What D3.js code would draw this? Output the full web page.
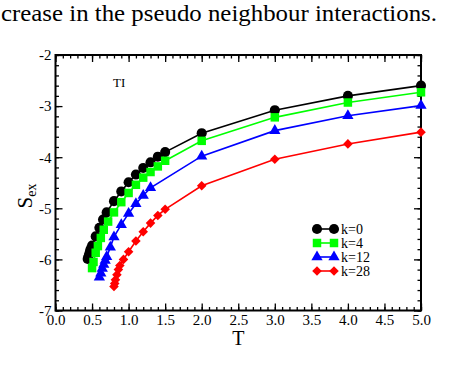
<!DOCTYPE html>
<html>
<head>
<meta charset="utf-8">
<script src="https://cdn.jsdelivr.net/npm/d3@7/dist/d3.min.js"></script>
<style>
  html, body { margin: 0; padding: 0; background: #fff; }
  svg { display: block; }
  svg text { font-family: "Liberation Serif", "DejaVu Serif", "Noto Serif", serif !important; fill: #000; }
</style>
</head>
<body>
<svg id="chart" width="474" height="366"></svg>
<script>
// ---- data ----
const captionText = "crease in the pseudo neighbour interactions.";
const panelLabel = "TI";
const xTickLabels = ["0.0","0.5","1.0","1.5","2.0","2.5","3.0","3.5","4.0","4.5","5.0"];
const yTickLabels = ["-7","-6","-5","-4","-3","-2"];
const seriesNames = ["k=0", "k=4", "k=12", "k=28"];

const T_k0 = [0.44,0.45,0.46,0.47,0.48,0.5,0.55,0.6,0.65,0.7,0.8,0.9,1.0,1.1,1.2,1.3,1.4,1.5,2,3,4,5];
const S_k0 = [-5.99,-5.95,-5.90,-5.85,-5.80,-5.73,-5.55,-5.38,-5.22,-5.08,-4.86,-4.67,-4.49,-4.34,-4.21,-4.10,-3.99,-3.90,-3.53,-3.08,-2.80,-2.60];

const T_k4 = [0.5,0.52,0.55,0.58,0.62,0.66,0.72,0.8,0.9,1.0,1.1,1.2,1.3,1.4,1.5,2,3,4,5];
const S_k4 = [-6.17,-6.05,-5.87,-5.74,-5.58,-5.42,-5.26,-5.08,-4.88,-4.70,-4.54,-4.40,-4.29,-4.18,-4.07,-3.68,-3.22,-2.93,-2.73];

const T_k12 = [0.6,0.62,0.64,0.66,0.68,0.7,0.75,0.8,0.9,1.0,1.1,1.2,1.3,2,3,4,5];
const S_k12 = [-6.35,-6.27,-6.18,-6.10,-6.02,-5.95,-5.76,-5.56,-5.32,-5.10,-4.91,-4.75,-4.60,-3.98,-3.48,-3.19,-2.99];

const T_k28 = [0.8,0.81,0.82,0.84,0.86,0.88,0.93,1.0,1.1,1.2,1.3,1.4,1.5,2,3,4,5];
const S_k28 = [-6.53,-6.47,-6.40,-6.30,-6.20,-6.12,-6.00,-5.85,-5.64,-5.46,-5.29,-5.14,-5.02,-4.56,-4.04,-3.74,-3.51];

const seriesT = [T_k0, T_k4, T_k12, T_k28];
const seriesS = [S_k0, S_k4, S_k12, S_k28];
const colors = ["#000000", "#00ff00", "#0000ff", "#ff0000"];

// ---- layout ----
const W = 474, H = 366;
const margin = { left: 55.5, right: 53, top: 55, bottom: 55.5 };
const svg = d3.select("#chart");

const x = d3.scaleLinear().domain([0, 5]).range([margin.left, W - margin.right]);
const y = d3.scaleLinear().domain([-7, -2]).range([H - margin.bottom, margin.top]);

// caption
svg.append("text")
  .attr("x", 1).attr("y", 20.5)
  .attr("font-size", 23)
  .attr("textLength", 436)
  .attr("lengthAdjust", "spacingAndGlyphs")
  .text(captionText);

// axes with inward ticks
const majorX = d3.range(0, 5.001, 0.5);
const minorX = d3.range(0, 5.001, 0.1);
const majorY = d3.range(-7, -1.999, 1);
const minorY = d3.range(-7, -1.999, 0.2);

const axBottom = d3.axisBottom(x).tickValues(majorX).tickSize(-7).tickFormat((d, i) => xTickLabels[i]).tickPadding(4);
const axBottomMinor = d3.axisBottom(x).tickValues(minorX).tickSize(-3.5).tickFormat("");
const axTop = d3.axisTop(x).tickValues(majorX).tickSize(-7).tickFormat("");
const axTopMinor = d3.axisTop(x).tickValues(minorX).tickSize(-3.5).tickFormat("");
const axLeft = d3.axisLeft(y).tickValues(majorY).tickSize(-7).tickFormat((d, i) => yTickLabels[i]).tickPadding(4);
const axLeftMinor = d3.axisLeft(y).tickValues(minorY).tickSize(-3.5).tickFormat("");
const axRight = d3.axisRight(y).tickValues(majorY).tickSize(-7).tickFormat("");
const axRightMinor = d3.axisRight(y).tickValues(minorY).tickSize(-3.5).tickFormat("");

function styleAxis(g) {
  g.select(".domain").remove();
  g.attr("font-family", null);
  g.selectAll(".tick line").attr("stroke", "#000").attr("stroke-width", 1.3);
  g.selectAll(".tick text").attr("font-size", 15).attr("fill", "#000");
}
const bY = H - margin.bottom, tY = margin.top, lX = margin.left, rX = W - margin.right;
svg.append("g").attr("transform", `translate(0,${bY})`).call(axBottomMinor).call(styleAxis);
svg.append("g").attr("transform", `translate(0,${bY})`).call(axBottom).call(styleAxis);
svg.append("g").attr("transform", `translate(0,${tY})`).call(axTopMinor).call(styleAxis);
svg.append("g").attr("transform", `translate(0,${tY})`).call(axTop).call(styleAxis);
svg.append("g").attr("transform", `translate(${lX},0)`).call(axLeftMinor).call(styleAxis);
svg.append("g").attr("transform", `translate(${lX},0)`).call(axLeft).call(styleAxis);
svg.append("g").attr("transform", `translate(${rX},0)`).call(axRightMinor).call(styleAxis);
svg.append("g").attr("transform", `translate(${rX},0)`).call(axRight).call(styleAxis);

// frame
svg.append("rect")
  .attr("x", lX).attr("y", tY)
  .attr("width", rX - lX).attr("height", bY - tY)
  .attr("fill", "none").attr("stroke", "#000").attr("stroke-width", 2);

// axis titles
svg.append("text")
  .attr("x", (lX + rX) / 2).attr("y", 345)
  .attr("text-anchor", "middle").attr("font-size", 20)
  .text("T");

const yt = svg.append("text")
  .attr("transform", `translate(32,196) rotate(-90)`)
  .attr("text-anchor", "middle").attr("font-size", 21);
yt.append("tspan").text("S");
yt.append("tspan").attr("font-size", 14).attr("dy", 4).text("ex");

// panel label
svg.append("text")
  .attr("x", 113).attr("y", 87)
  .attr("font-size", 13)
  .text(panelLabel);

// symbols
const symbolGens = [
  d3.symbol().type(d3.symbolCircle).size(80),
  d3.symbol().type(d3.symbolSquare).size(72),
  d3.symbol().type(d3.symbolTriangle).size(55),
  d3.symbol().type(d3.symbolSquare).size(46)
];
const symbolRot = [0, 0, 0, 45];

const line = d3.line().x(d => x(d[0])).y(d => y(d[1]));

seriesT.forEach((Ts, si) => {
  const pts = Ts.map((t, i) => [t, seriesS[si][i]]);
  const g = svg.append("g");
  g.append("path").datum(pts)
    .attr("d", line).attr("fill", "none")
    .attr("stroke", colors[si]).attr("stroke-width", 1.6);
  g.selectAll("path.m").data(pts).enter().append("path")
    .attr("class", "m")
    .attr("d", symbolGens[si]())
    .attr("transform", d => `translate(${x(d[0])},${y(d[1])}) rotate(${symbolRot[si]})`)
    .attr("fill", colors[si]);
});

// legend
const legX1 = 317, legX2 = 334, legTextX = 341;
const legY0 = 229, legDy = 14;
seriesNames.forEach((name, i) => {
  const ly = legY0 + i * legDy;
  const g = svg.append("g");
  g.append("line").attr("x1", legX1).attr("x2", legX2).attr("y1", ly).attr("y2", ly)
    .attr("stroke", colors[i]).attr("stroke-width", 1.6);
  [legX1, legX2].forEach(lx => {
    g.append("path").attr("d", symbolGens[i]())
      .attr("transform", `translate(${lx},${ly}) rotate(${symbolRot[i]})`)
      .attr("fill", colors[i]);
  });
  g.append("text").attr("x", legTextX).attr("y", ly + 5)
    .attr("font-size", 14).text(name);
});
</script>
</body>
</html>
